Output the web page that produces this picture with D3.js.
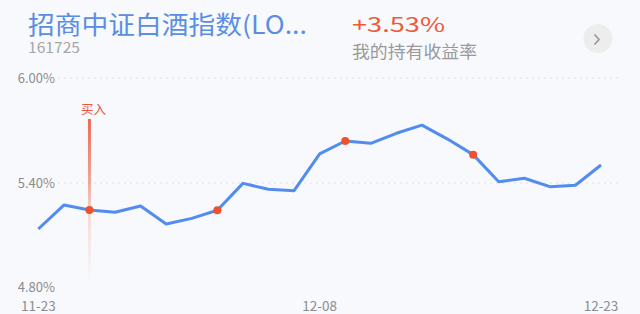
<!DOCTYPE html>
<html>
<head>
<meta charset="utf-8">
<script src="https://cdn.jsdelivr.net/npm/d3@7"></script>
<style>
  html, body { margin: 0; padding: 0; background: #f7f9fc; }
  svg { display: block; }
  text { font-family: "Noto Sans CJK SC", "Open Sans", sans-serif; }
</style>
</head>
<body>
<svg id="chart" width="640" height="314"></svg>
<script>
// trading days 2020-11-23 .. 2020-12-23
const dates = ['11-23', '11-24', '11-25', '11-26', '11-27', '11-30', '12-01', '12-02',
  '12-03', '12-04', '12-07', '12-08', '12-09', '12-10', '12-11', '12-14', '12-15',
  '12-16', '12-17', '12-18', '12-21', '12-22', '12-23']
// 收益率 (%)
const values = [5.137, 5.274, 5.246, 5.233, 5.269, 5.166, 5.198, 5.244, 5.398, 5.364,
  5.356, 5.566, 5.640, 5.627, 5.684, 5.731, 5.651, 5.562, 5.407, 5.427, 5.379, 5.387, 5.503]
const markerDates = ['11-25', '12-02', '12-09', '12-16']
const buyDate = '11-25'
const yTicks = [4.8, 5.4, 6.0]
const xTickDates = ['11-23', '12-08', '12-23']

const svg = d3.select('#chart')

const x = d3.scalePoint().domain(dates).range([38.3, 601])
const y = d3.scaleLinear().domain([4.8, 6.0]).range([288, 78])

// header
const header = svg.append('g').attr('class', 'header')
header.append('text')
  .attr('x', 28).attr('y', 34)
  .attr('font-size', 25).attr('fill', '#5b8de3')
  .attr('textLength', 279).attr('lengthAdjust', 'spacingAndGlyphs')
  .text('招商中证白酒指数(LO...')
header.append('text')
  .attr('x', 28).attr('y', 53)
  .attr('font-size', 14.5).attr('fill', '#a6a6a6')
  .attr('font-family', '"Open Sans", sans-serif')
  .attr('textLength', 52).attr('lengthAdjust', 'spacingAndGlyphs')
  .text('161725')
header.append('text')
  .attr('x', 352).attr('y', 32)
  .attr('font-size', 20).attr('fill', '#ef5a38')
  .attr('font-family', '"Open Sans", sans-serif')
  .attr('textLength', 93).attr('lengthAdjust', 'spacingAndGlyphs')
  .text('+3.53%')
header.append('text')
  .attr('x', 352).attr('y', 58)
  .attr('font-size', 17).attr('fill', '#9a9a9a')
  .attr('textLength', 125).attr('lengthAdjust', 'spacingAndGlyphs')
  .text('我的持有收益率')

header.append('circle')
  .attr('cx', 598).attr('cy', 38.5).attr('r', 14.5)
  .attr('fill', '#ededee')
header.append('path')
  .attr('d', 'M594.5,34.5 L599,39.5 L594.5,44.5')
  .attr('fill', 'none').attr('stroke', '#9b9b9b').attr('stroke-width', 1.8)

// grid + y labels
const grid = svg.append('g').attr('class', 'grid')
grid.selectAll('line')
  .data(yTicks.filter((d)=> d > 4.8))
  .enter()
  .append('line')
  .attr('x1', 58).attr('x2', 618)
  .attr('y1', (d)=> y(d)).attr('y2', (d)=> y(d))
  .attr('stroke', '#dcdfe5')
  .attr('stroke-dasharray', '2,4')

grid.selectAll('text')
  .data(yTicks)
  .enter()
  .append('text')
  .attr('x', 55)
  .attr('y', (d)=> y(d) - (d === 4.8 ? 1 : 0))
  .attr('dy', '0.35em')
  .attr('text-anchor', 'end')
  .attr('font-size', 13)
  .attr('font-family', '"Open Sans", sans-serif')
  .attr('fill', '#8c8c8c')
  .text((d)=> d3.format('.2f')(d) + '%')

// x labels
svg.append('g').attr('class', 'x-labels')
  .selectAll('text')
  .data(xTickDates)
  .enter()
  .append('text')
  .attr('x', (d)=> x(d))
  .attr('y', 310.5)
  .attr('text-anchor', 'middle')
  .attr('font-size', 13.5)
  .attr('font-family', '"Open Sans", sans-serif')
  .attr('fill', '#8c8c8c')
  .text((d)=> d)

// buy marker
const defs = svg.append('defs')
const grad = defs.append('linearGradient')
  .attr('id', 'buyGrad')
  .attr('x1', 0).attr('y1', 0).attr('x2', 0).attr('y2', 1)
grad.append('stop').attr('offset', '0%').attr('stop-color', '#ee6148').attr('stop-opacity', 0.95)
grad.append('stop').attr('offset', '35%').attr('stop-color', '#ee6148').attr('stop-opacity', 0.6)
grad.append('stop').attr('offset', '60%').attr('stop-color', '#ee6148').attr('stop-opacity', 0.2)
grad.append('stop').attr('offset', '100%').attr('stop-color', '#ee6148').attr('stop-opacity', 0)

svg.append('rect')
  .attr('x', x(buyDate) - 1.5).attr('y', 119)
  .attr('width', 3).attr('height', 162)
  .attr('fill', 'url(#buyGrad)')
svg.append('text')
  .attr('x', x(buyDate) + 4).attr('y', 114)
  .attr('text-anchor', 'middle')
  .attr('font-size', 12.5)
  .attr('fill', '#e8583f')
  .text('买入')

// line
const line = d3.line()
  .x((d, i)=> x(dates[i]))
  .y((d)=> y(d))

svg.append('path')
  .datum(values)
  .attr('d', line)
  .attr('fill', 'none')
  .attr('stroke', '#528cf0')
  .attr('stroke-width', 3)
  .attr('stroke-linejoin', 'round')

svg.selectAll('.marker')
  .data(markerDates)
  .enter()
  .append('circle')
  .attr('class', 'marker')
  .attr('cx', (d)=> x(d))
  .attr('cy', (d)=> y(values[dates.indexOf(d)]))
  .attr('r', 4)
  .attr('fill', '#f0502c')
</script>
</body>
</html>
